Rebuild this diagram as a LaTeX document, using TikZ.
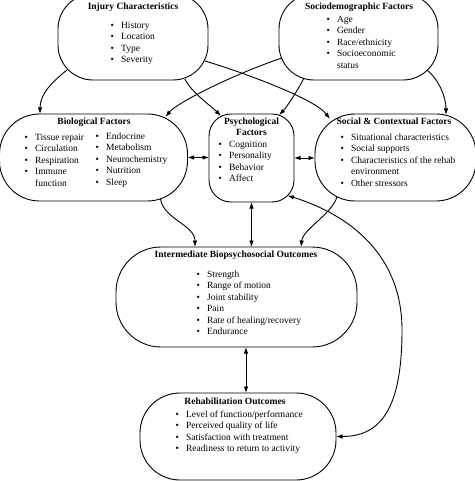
\documentclass[tikz,border=0pt]{standalone}
\usepackage{fontspec}
\setmainfont{Liberation Serif}
\usetikzlibrary{arrows.meta,calc}
\newcommand\blist[1]{\begin{tabular}{@{}c@{\hspace{7.3pt}}l@{}}#1\end{tabular}}
\begin{document}
\begin{tikzpicture}[x=1pt,y=-1pt,
  box/.style={draw,line width=0.9pt,inner sep=0pt,outer sep=0pt},
  ttl/.style={font=\fontsize{9.5}{11.5}\selectfont\bfseries,anchor=base,inner sep=0pt},
  lst/.style={font=\fontsize{9.5}{11.5}\selectfont,anchor=north west,inner sep=0pt},
  conn/.style={line width=0.9pt,-{Latex[length=6.5pt,width=4.5pt]}},
  dconn/.style={line width=0.9pt,{Latex[length=6.5pt,width=4.5pt]}-{Latex[length=6.5pt,width=4.5pt]}}]
\useasboundingbox (0,0) rectangle (474,481);
\fill[white] (0,0) rectangle (474,481);
% boxes
\node[box,rounded corners=35pt,minimum width=150pt,minimum height=86pt] (inj) at (133,37) {};
\node[box,rounded corners=35pt,minimum width=159pt,minimum height=86pt] (socio) at (358.5,37) {};
\node[box,rounded corners=40pt,minimum width=188pt,minimum height=87pt] (bio) at (93.5,157.5) {};
\node[box,rounded corners=22pt,minimum width=85pt,minimum height=88pt] (psy) at (251.5,158) {};
\node[box,rounded corners=40pt,minimum width=161pt,minimum height=87pt] (soc) at (395.5,157.5) {};
\node[box,rounded corners=45pt,minimum width=241pt,minimum height=100pt] (inter) at (236.5,297) {};
\node[box,rounded corners=40pt,minimum width=196pt,minimum height=87pt] (rehab) at (238,436.5) {};
% titles
\node[ttl] (injt) at (133,10) {Injury Characteristics};
\node[ttl] (sociot) at (359,10) {Sociodemographic Factors};
\node[ttl] (biot) at (94,124.3) {Biological Factors};
\node[ttl] (psyt1) at (251.5,124.3) {Psychological};
\node[ttl] (psyt2) at (251.5,136) {Factors};
\node[ttl] (soct) at (394,124.3) {Social \& Contextual Factors};
\node[ttl] (intert) at (236,257.3) {Intermediate Biopsychosocial Outcomes};
\node[ttl] (rehabt) at (235,404.3) {Rehabilitation Outcomes};
% lists
\node[lst] (injl) at (110.3,20) {\blist{\textbullet & History\\ \textbullet & Location\\ \textbullet & Type\\ \textbullet & Severity}};
\node[lst] (sociol) at (326.3,14) {\blist{\textbullet & Age\\ \textbullet & Gender\\ \textbullet & Race/ethnicity\\ \textbullet & Socioeconomic\\ & status}};
\node[lst] (biol1) at (24.3,132) {\blist{\textbullet & Tissue repair\\ \textbullet & Circulation\\ \textbullet & Respiration\\ \textbullet & Immune\\ & function}};
\node[lst] (biol2) at (95.3,131) {\blist{\textbullet & Endocrine\\ \textbullet & Metabolism\\ \textbullet & Neurochemistry\\ \textbullet & Nutrition\\ \textbullet & Sleep}};
\node[lst] (psyl) at (218.3,139) {\blist{\textbullet & Cognition\\ \textbullet & Personality\\ \textbullet & Behavior\\ \textbullet & Affect}};
\node[lst] (socl) at (340.3,132) {\blist{\textbullet & Situational characteristics\\ \textbullet & Social supports\\ \textbullet & Characteristics of the rehab\\ & environment\\ \textbullet & Other stressors}};
\node[lst] (interl) at (196.3,269) {\blist{\textbullet & Strength\\ \textbullet & Range of motion\\ \textbullet & Joint stability\\ \textbullet & Pain\\ \textbullet & Rate of healing/recovery\\ \textbullet & Endurance}};
\node[lst] (rehabl) at (175.3,409) {\blist{\textbullet & Level of function/performance\\ \textbullet & Perceived quality of life\\ \textbullet & Satisfaction with treatment\\ \textbullet & Readiness to return to activity}};
% connectors from top row
\draw[conn] ($(inj.south)+(-66,-10)$) .. controls +(-15,12) and +(0,-20) .. ([xshift=-53.5pt]bio.north);
\draw[conn] ($(inj.south)+(52,-1)$) .. controls +(5,12) and +(-10,-10) .. ($(psy.north west)+(12,2)$);
\draw[conn] ($(inj.east)+(-3,24)$) .. controls +(40,12) and +(-15,-20) .. ($(soc.north west)+(15,5)$);
\draw[conn] ($(socio.west)+(3,21)$) .. controls +(-45,15) and +(12,-15) .. ($(bio.north east)+(-22,3)$);
\draw[conn] ($(socio.south west)+(25,-2)$) .. controls +(-5,10) and +(8,-8) .. ($(psy.north east)+(-15,1)$);
\draw[conn] ($(socio.south east)+(-11,-10)$) .. controls +(12,10) and +(0,-18) .. ($(soc.north east)+(-30,1)$);
% horizontal double arrows
\draw[dconn] (bio.east) -- (bio.east -| psy.west);
\draw[dconn] (psy.east) -- (psy.east -| soc.west);
% to intermediate
\draw[dconn] (psy.south) -- (psy.south |- inter.north);
\draw[conn] ($(bio.south east)+(-27,-2)$) .. controls +(3,20) and +(0,-22) .. ([xshift=-41.5pt]inter.north);
\draw[conn] ($(soc.south west)+(22,-4)$) .. controls +(-6,18) and +(2,-18) .. ([xshift=64.5pt]inter.north);
% intermediate <-> rehab
\coordinate (irtop) at ([xshift=9.5pt]inter.south);
\draw[dconn] (irtop) -- (irtop |- rehab.north);
% long feedback arrow
\coordinate (bend) at (402,330);
\draw[dconn] ($(psy.south east)+(-6.5,-6.5)$) .. controls (350,215) and (402,255) .. (bend) .. controls (402,410) and (380,436.5) .. (rehab.east);
\end{tikzpicture}
\end{document}
